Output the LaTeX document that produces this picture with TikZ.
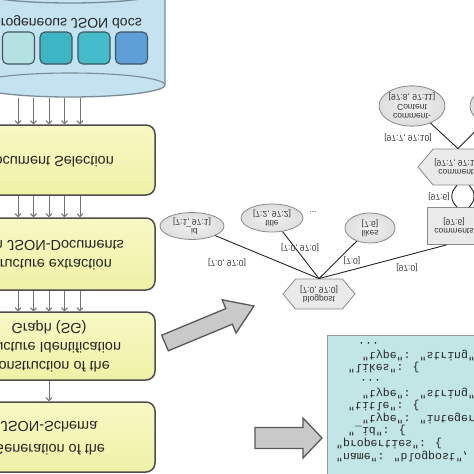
\documentclass[tikz,border=0pt]{standalone}
\usepackage{fontspec}
\setmainfont{Liberation Sans}
\newfontfamily\jsonfont{Liberation Mono}
\usetikzlibrary{shapes.geometric,shapes.symbols,arrows.meta}
\newcommand{\fl}[1]{\scalebox{1}[-1]{\begin{tabular}{@{}c@{}}#1\end{tabular}}}
\newcommand{\fll}[1]{\scalebox{1}[-1]{#1}}
\definecolor{cylfill}{HTML}{C4E2F0}
\definecolor{cylline}{HTML}{7B8C96}
\definecolor{boxtop}{HTML}{F7F8C4}
\definecolor{boxbot}{HTML}{EFF1A6}
\definecolor{boxline}{HTML}{4D4D4D}
\definecolor{sqA}{HTML}{B4E2E2}
\definecolor{sqB}{HTML}{3EB5C4}
\definecolor{sqC}{HTML}{44BCCB}
\definecolor{sqD}{HTML}{5E9FD8}
\definecolor{sqline}{HTML}{405560}
\definecolor{jsonbg}{HTML}{C2E5E6}
\definecolor{nodeline}{HTML}{8A8A8A}
\definecolor{nodefill}{HTML}{EAEAEA}
\definecolor{bigarrfill}{HTML}{C9C9C9}
\begin{document}
\begin{tikzpicture}[x=1pt,y=1pt,yscale=-1,
  stepbox/.style={draw=boxline,line width=1.5pt,top color=boxtop,bottom color=boxbot,
    rounded corners=9pt,inner sep=0pt,font=\fontsize{14.5}{19}\selectfont,text=black!85},
  sqbox/.style={draw=sqline,line width=1.1pt,rounded corners=5pt,minimum size=32pt,inner sep=0pt},
  smallarr/.style={draw=black!55,line width=0.9pt,-{Straight Barb[length=3pt,width=6pt]}},
  ell/.style={ellipse,draw=nodeline,line width=0.8pt,inner sep=0pt,
    inner color=white!95!black,outer color=black!13,font=\fontsize{8.5}{9.5}\selectfont,text=black!80},
  hexa/.style={signal,signal to=west and east,signal pointer angle=100,draw=nodeline,
    line width=0.8pt,fill=nodefill,inner sep=0pt,font=\fontsize{8.5}{9.5}\selectfont,text=black!80},
  rectn/.style={rectangle,draw=nodeline,line width=0.8pt,fill=nodefill,inner sep=0pt,
    font=\fontsize{8.5}{9.5}\selectfont,text=black!80},
  edgelab/.style={inner sep=0pt,font=\fontsize{8.5}{9.5}\selectfont,text=black!80},
  gedge/.style={draw=black!85,line width=0.9pt},
  bigarr/.style={fill=bigarrfill,draw=black!65,line width=1.3pt,line join=miter},
  jline/.style={anchor=west,inner sep=0pt,font=\jsonfont\fontsize{11.5}{12}\selectfont,text=black!85}
]
\useasboundingbox (0,0) rectangle (474,474);
\fill[white] (0,0) rectangle (474,474);
\clip (0,0) rectangle (474,474);

% ---------- cylinder ----------
\fill[cylfill] (165,-9) -- (165,85) arc[start angle=0,end angle=180,x radius=95,y radius=12] -- (-25,-9) -- cycle;
\draw[cylline,line width=1.3pt] (165,-9) -- (165,85) arc[start angle=0,end angle=180,x radius=95,y radius=12] -- (-25,-9);
\draw[cylline,line width=1.1pt] (165,85) arc[start angle=0,end angle=-180,x radius=95,y radius=12];
\draw[cylline,line width=1.3pt] (165,-9) arc[start angle=0,end angle=180,x radius=95,y radius=12];
\node[anchor=east,inner sep=0pt,font=\fontsize{14}{16}\selectfont,text=black!85] (cyltxt) at (142,22) {\fll{Heterogeneous JSON docs}};
\node[sqbox,fill=sqA] (s1) at (18.5,48) {};
\node[sqbox,fill=sqB] (s2) at (56,48) {};
\node[sqbox,fill=sqC] (s3) at (94,48) {};
\node[sqbox,fill=sqD] (s4) at (131.5,48) {};

% ---------- process boxes ----------
\node[stepbox,minimum width=212pt,minimum height=70pt] (b1) at (49,160) {\fl{Document Selection}};
\node[stepbox,minimum width=212pt,minimum height=72pt] (b2) at (49,254) {\fl{Structure extraction\\from JSON-Documents}};
\node[stepbox,minimum width=212pt,minimum height=68pt] (b3) at (49,346) {\fl{Construction of the\\Structure Identification\\Graph (SG)}};
\node[stepbox,minimum width=212pt,minimum height=70pt] (b4) at (49,437) {\fl{Generation of the\\[4pt]JSON-Schema}};

\foreach \xx [count=\i] in {18,33.5,49,64.5,80} {
  \coordinate (ax\i) at (\xx,97.5);
  \draw[smallarr] (ax\i) -- (b1.north -| ax\i);
  \draw[smallarr] (b1.south -| ax\i) -- (b2.north -| ax\i);
  \draw[smallarr] (b2.south -| ax\i) -- (b3.north -| ax\i);
}
\draw[smallarr] (b3.south -| ax3) -- (b4.north -| ax3);

% ---------- big arrows ----------
\draw[bigarr] (161.7,335.2) -- (225.8,308.6) -- (222.2,299.8) -- (254,306) -- (236.0,333.0) -- (232.4,324.2) -- (168.3,350.8) -- cycle;
\draw[bigarr] (255,427.5) -- (303,427.5) -- (303,418) -- (322,438) -- (303,458) -- (303,448.5) -- (255,448.5) -- cycle;

% ---------- JSON box ----------
\fill[jsonbg] (327,335) rectangle (480,480);
\draw[black!40,line width=0.6pt] (480,335) -- (327,335) -- (327,480);
\node[jline] (j1) at (358,343) {\fll{...}};
\node[jline] (j2) at (362,355) {\fll{"type": "string"}};
\node[jline] (j3) at (348,367) {\fll{"likes": \{}};
\node[jline] (j4) at (360,380) {\fll{...}};
\node[jline] (j5) at (362,393) {\fll{"type": "string",}};
\node[jline] (j6) at (348,405) {\fll{"title": \{}};
\node[jline] (j7) at (362,418) {\fll{"type": "integer"}};
\node[jline] (j8) at (348,430) {\fll{"\_id": \{}};
\node[jline] (j9) at (336,443) {\fll{"properties": \{}};
\node[jline] (j10) at (336,456) {\fll{"name": "blogpost",}};

% ---------- structure graph ----------
\node[hexa,minimum width=72pt,minimum height=30pt] (bp) at (319,294) {\fl{blogpost\\{}[7:0, 97:0]}};
\node[ell,minimum width=64pt,minimum height=26pt] (id) at (192,226) {\fl{\_id\\{}[7:1, 97:1]}};
\node[ell,minimum width=62pt,minimum height=28pt] (title) at (272,218) {\fl{title\\{}[7:2, 97:2]}};
\node[edgelab] (dots) at (313,212) {\fll{...}};
\node[ell,minimum width=50pt,minimum height=30pt] (likes) at (370,228) {\fl{likes\\{}[7:6]}};
\node[rectn,minimum width=54pt,minimum height=37pt] (arr) at (454,226) {\fl{comments\\{}[97:6]}};
\node[hexa,minimum width=80pt,minimum height=36pt] (cmt) at (458,167) {\fl{comments\\{}[97:7, 97:10]}};
\node[ell,minimum width=54pt,minimum height=40pt] (cc) at (412,106) {\fl{comment-\\Content\\{}[97:8, 97:11]}};
\node[ell,minimum width=60pt,minimum height=40pt] (ce) at (500,106) {};

\draw[gedge] (id) -- (bp.north);
\draw[gedge] (title) -- (bp.north);
\draw[gedge] (likes) -- (bp.north);
\draw[gedge] (bp.north) -- ([xshift=20pt]arr.south west);
\draw[gedge] (cc) -- (cmt.north);
\draw[gedge] (ce) -- (cmt.north);
\draw[gedge] ([xshift=-1pt]cmt.south) .. controls +(-7,7) and +(-7,-7) .. ([xshift=3pt]arr.north);
\draw[gedge] ([xshift=11pt]cmt.south) .. controls +(7,7) and +(7,-7) .. ([xshift=15pt]arr.north);

\node[edgelab] (l1) at (227,263) {\fll{[7:0, 97:0]}};
\node[edgelab] (l2) at (300,248) {\fll{[7:0, 97:0]}};
\node[edgelab] (l3) at (352,261) {\fll{[7:0]}};
\node[edgelab] (l4) at (407,268) {\fll{[97:0]}};
\node[edgelab] (l5) at (439,197) {\fll{[97:6]}};
\node[edgelab,anchor=west] (l6) at (473,197) {\fll{[97:6]}};
\node[edgelab] (l7) at (408,138) {\fll{[97:7, 97:10]}};
\end{tikzpicture}
\end{document}
